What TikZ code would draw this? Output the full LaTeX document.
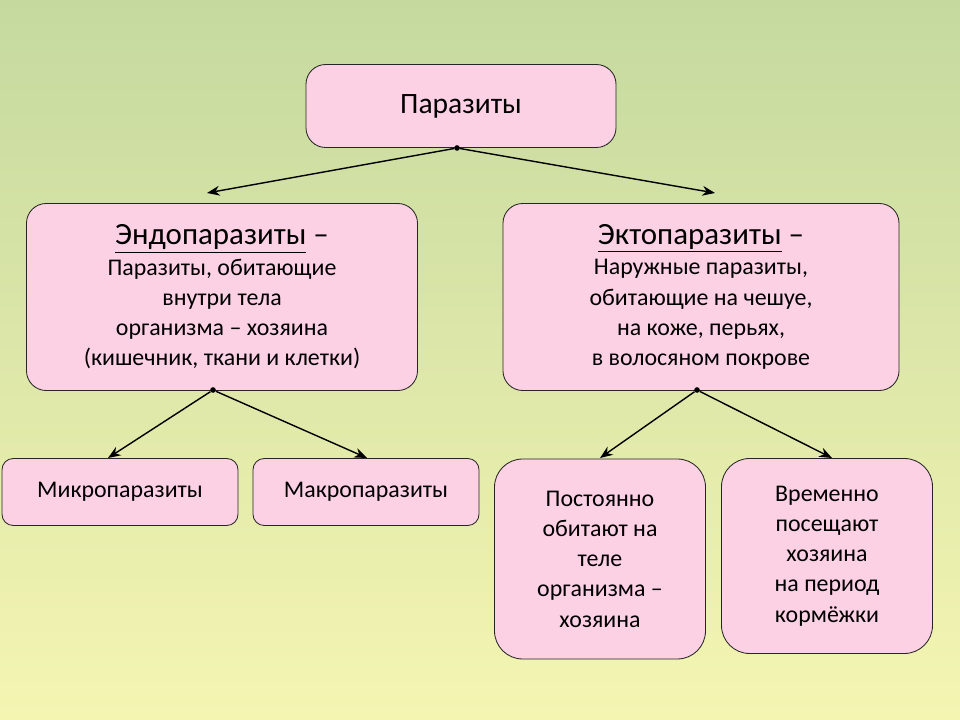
\documentclass[tikz,border=0pt]{standalone}
\usepackage{fontspec}
\setmainfont{Carlito}
\usetikzlibrary{arrows.meta}
\definecolor{bgtop}{HTML}{C5D99F}
\definecolor{bgbot}{HTML}{F5F5B2}
\definecolor{boxpink}{HTML}{FCD1E4}
\tikzset{
  box/.style={draw=black!85, line width=0.6pt, fill=boxpink, rounded corners=14pt, align=center,
    font=\fontsize{17}{21.5}\selectfont, inner sep=2pt},
  link/.style={-{Stealth[length=9pt,width=7pt]}, line width=1pt},
  dot/.style={circle, fill=black, inner sep=0pt, minimum size=4pt}
}
\newcommand{\ttl}[1]{{\fontsize{22}{28}\selectfont\underline{#1}~–}}
\begin{document}
\begin{tikzpicture}[x=0.025cm, y=-0.025cm]
  \shade[top color=bgtop, bottom color=bgbot] (0,0) rectangle (960,720);
  \useasboundingbox (0,0) rectangle (960,720);

  \node[box, font=\fontsize{21}{25}\selectfont, minimum width=310*0.025cm, minimum height=83*0.025cm] (par) at (461,106) {Паразиты};
  \node[box, minimum width=391*0.025cm, minimum height=187*0.025cm] (endo) at (222,297)
    {\ttl{Эндопаразиты}\\Паразиты, обитающие\\внутри тела\\организма – хозяина\\(кишечник, ткани и клетки)};
  \node[box, minimum width=396*0.025cm, minimum height=187*0.025cm] (ekto) at (701,297)
    {\ttl{Эктопаразиты}\\Наружные паразиты,\\обитающие на чешуе,\\на коже, перьях,\\в волосяном покрове};
  \node[box, rounded corners=8pt, minimum width=236*0.025cm, minimum height=67*0.025cm] (mikro) at (120,492) {Микропаразиты};
  \node[box, rounded corners=8pt, minimum width=226*0.025cm, minimum height=67*0.025cm] (makro) at (366,492) {Макропаразиты};
  \node[box, rounded corners=20pt, minimum width=211*0.025cm, minimum height=200*0.025cm] (post) at (600,559)
    {Постоянно\\обитают на\\теле\\организма –\\хозяина};
  \node[box, rounded corners=20pt, minimum width=211*0.025cm, minimum height=195*0.025cm] (vrem) at (827,556)
    {Временно\\посещают\\хозяина\\на период\\кормёжки};

  \node[dot] (d1) at (457,148) {};
  \node[dot] (d2) at (213,390) {};
  \node[dot] (d3) at (697,390) {};
  \coordinate (e1) at (207,193);
  \coordinate (e2) at (715,193);
  \coordinate (e3) at (108,458);
  \coordinate (e4) at (367,458);
  \coordinate (e5) at (600,458);
  \coordinate (e6) at (832,458);

  \draw[link] (d1) -- (e1);
  \draw[link] (d1) -- (e2);
  \draw[link] (d2) -- (e3);
  \draw[link] (d2) -- (e4);
  \draw[link] (d3) -- (e5);
  \draw[link] (d3) -- (e6);
\end{tikzpicture}
\end{document}
